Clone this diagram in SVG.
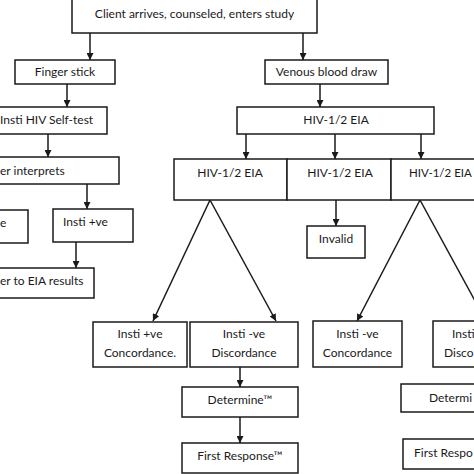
<svg xmlns="http://www.w3.org/2000/svg" width="474" height="474" viewBox="0 0 474 474">
<defs>
<marker id="ah" viewBox="0 0 10 10" refX="10" refY="5" markerWidth="7" markerHeight="7" markerUnits="userSpaceOnUse" orient="auto">
<path d="M0,0 L10,5 L0,10 z" fill="#1a1a1a"/>
</marker>
<style>
rect{fill:#fff;stroke:#1a1a1a;stroke-width:1.5}
text{font-family:Lato,"Open Sans","Liberation Sans",sans-serif;font-size:12px;fill:#1a1a1a}
.c{text-anchor:middle}
#connectors line{stroke:#1a1a1a;stroke-width:1.5;marker-end:url(#ah)}
#connectors line.n{marker-end:none}
</style>
</defs>
<rect x="0" y="0" width="474" height="474" style="fill:#fff;stroke:none"/>
<g id="connectors">
<line x1="90" y1="33" x2="90" y2="60"/>
<line x1="303" y1="33" x2="303" y2="60"/>
<line x1="67" y1="84" x2="67" y2="107"/>
<line x1="320" y1="84" x2="320" y2="107"/>
<line x1="48" y1="134" x2="48" y2="157"/>
<line x1="87" y1="184" x2="87" y2="209"/>
<line x1="76" y1="242" x2="76" y2="268"/>
<line x1="246" y1="134" x2="246" y2="159"/>
<line x1="335" y1="134" x2="335" y2="159"/>
<line x1="421" y1="134" x2="421" y2="159"/>
<line x1="210" y1="200" x2="153" y2="321"/>
<line x1="210" y1="200" x2="276" y2="321"/>
<line x1="336" y1="200" x2="336" y2="226"/>
<line x1="420" y1="200" x2="357" y2="321"/>
<line class="n" x1="420" y1="200" x2="486" y2="321"/>
<line x1="240" y1="367" x2="240" y2="387"/>
<line x1="240" y1="417" x2="240" y2="443"/>
</g>
<g id="n-client"><rect x="72" y="-1" width="245" height="34"/><text class="c" x="194.5" y="18">Client arrives, counseled, enters study</text></g>
<g id="n-finger"><rect x="15" y="60" width="100" height="24"/><text class="c" x="65" y="76">Finger stick</text></g>
<g id="n-venous"><rect x="265" y="60" width="123" height="24"/><text class="c" x="326.5" y="76">Venous blood draw</text></g>
<g id="n-selftest"><rect x="-10" y="107" width="117" height="27"/><text x="0" y="124">Insti HIV Self-test</text></g>
<g id="n-eia"><rect x="237" y="107" width="197" height="27"/><text class="c" x="336" y="124">HIV-1/2 EIA</text></g>
<g id="n-interprets"><rect x="-10" y="157" width="129" height="27"/><text x="0" y="175">er interprets</text></g>
<g id="n-neg"><rect x="-10" y="210" width="38" height="33"/><text x="0" y="227">e</text></g>
<g id="n-pos"><rect x="53" y="209" width="80" height="33"/><text x="63" y="226">Insti +ve</text></g>
<g id="n-refer"><rect x="-10" y="268" width="104" height="30"/><text x="0" y="285">er to EIA results</text></g>
<g id="n-eia1"><rect x="174" y="159" width="113" height="41"/><text class="c" x="230" y="177">HIV-1/2 EIA</text></g>
<g id="n-eia2"><rect x="287" y="159" width="104" height="41"/><text class="c" x="340" y="177">HIV-1/2 EIA</text></g>
<g id="n-eia3"><rect x="391" y="159" width="100" height="41"/><text x="409" y="177" style="font-size:11.5px">HIV-1/2 EIA</text></g>
<g id="n-invalid"><rect x="307" y="226" width="58" height="32"/><text class="c" x="336" y="243">Invalid</text></g>
<g id="n-posconc"><rect x="93" y="322" width="94" height="45"/><text class="c" x="140" y="338">Insti  +ve</text><text class="c" x="140" y="357">Concordance.</text></g>
<g id="n-negdisc"><rect x="190" y="322" width="108" height="45"/><text class="c" x="244" y="338">Insti  -ve</text><text class="c" x="244" y="357">Discordance</text></g>
<g id="n-negconc"><rect x="313" y="321" width="89" height="46"/><text class="c" x="357.5" y="338">Insti  -ve</text><text class="c" x="357.5" y="357">Concordance</text></g>
<g id="n-disc2"><rect x="433" y="321" width="60" height="46"/><text x="452" y="338">Insti</text><text x="444" y="357">Disco</text></g>
<g id="n-determine"><rect x="182" y="387" width="116" height="30"/><text class="c" x="240" y="404">Determine™</text></g>
<g id="n-determine2"><rect x="401" y="384" width="90" height="28"/><text x="429" y="402">Determi</text></g>
<g id="n-first"><rect x="182" y="443" width="116" height="30"/><text class="c" x="240" y="460">First Response™</text></g>
<g id="n-first2"><rect x="403" y="439" width="90" height="30"/><text x="414" y="457">First Respo</text></g>
</svg>
